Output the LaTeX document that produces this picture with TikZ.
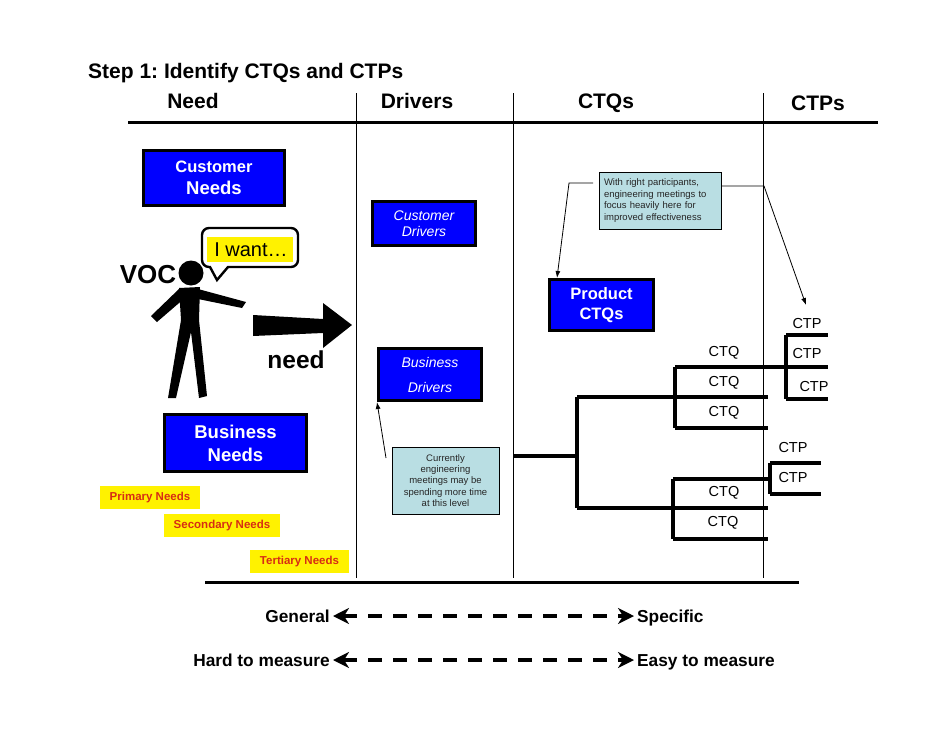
\documentclass[tikz,border=0pt]{standalone}
\usepackage{fontspec}
\setmainfont{Liberation Sans}
\usetikzlibrary{arrows.meta}
\definecolor{noteblue}{RGB}{185,222,227}
\definecolor{labred}{RGB}{215,45,20}
\definecolor{boxblue}{RGB}{0,0,255}
\frenchspacing
\begin{document}
\begin{tikzpicture}[x=1pt,y=-1pt,
  hdr/.style={font=\bfseries\fontsize{21}{25}\selectfont, inner sep=0pt, anchor=base},
  bluebox/.style={draw=black, line width=3pt, fill=boxblue, text=white, align=center, inner sep=0pt},
  notebox/.style={draw=black, line width=0.8pt, fill=noteblue, inner sep=0pt, font=\fontsize{9.5}{11.4}\selectfont, text=black!85},
  yellowlab/.style={fill=yellow, text=labred, font=\bfseries\fontsize{11.5}{13}\selectfont, inner sep=0pt},
  ctlab/.style={font=\fontsize{14.5}{16}\selectfont, inner sep=1pt},
  colline/.style={line width=0.9pt},
  rule/.style={line width=3pt},
  tree/.style={line width=3.2pt},
  thinarr/.style={line width=0.8pt, -{Latex[length=7pt,width=5pt]}},
  dasharr/.style={line width=3.8pt, dash pattern=on 14pt off 11pt, {Stealth[length=16pt,width=16pt,inset=5pt]}-{Stealth[length=16pt,width=16pt,inset=5pt]}},
  endlab/.style={font=\bfseries\fontsize{17.3}{20}\selectfont, inner sep=3pt}
]
\useasboundingbox (0,0) rectangle (942,728);
\fill[white] (0,0) rectangle (942,728);

% title and column headers
\node[hdr, anchor=base west] (step) at (88,78) {Step 1: Identify CTQs and CTPs};
\node[hdr] (hneed) at (193,108) {Need};
\node[hdr] (hdrv) at (417,108) {Drivers};
\node[hdr] (hctq) at (606,108) {CTQs};
\node[hdr] (hctp) at (818,110) {CTPs};

% rules and column lines
\draw[rule] (128,122) -- (878,122);
\draw[colline] (356,93) -- (356,578);
\draw[colline] (513,93) -- (513,578);
\draw[colline] (763,93) -- (763,578);
\draw[rule] (205,582) -- (799,582);

% blue boxes
\node[bluebox, minimum width=141pt, minimum height=55pt, font=\bfseries\fontsize{18.5}{22}\selectfont] (cneeds) at (214,178)
  {{\fontsize{16.5}{22}\selectfont Customer}\\Needs};
\node[bluebox, minimum width=103pt, minimum height=44pt, font=\itshape\fontsize{14}{16.5}\selectfont] (cdrv) at (424,223.5)
  {Customer\\Drivers};
\node[bluebox, minimum width=103pt, minimum height=52pt, font=\itshape\fontsize{14}{25}\selectfont] (bdrv) at (430,374.5)
  {Business\\Drivers};
\node[bluebox, minimum width=142pt, minimum height=57pt, font=\bfseries\fontsize{18.5}{23}\selectfont] (bneeds) at (235.5,443)
  {Business\\Needs};
\node[bluebox, minimum width=104pt, minimum height=51pt, font=\bfseries\fontsize{16.5}{19.5}\selectfont] (pctq) at (601.5,305)
  {Product\\CTQs};

% note boxes
\node[notebox, minimum width=122pt, minimum height=57pt, align=left, text width=112pt, inner xsep=5pt] (note1) at (660,200.5)
  {With right participants,\\engineering meetings to\\focus heavily here for\\improved effectiveness};
\node[notebox, minimum width=107pt, minimum height=67pt, align=center] (note2) at (445.5,480.5)
  {Currently\\engineering\\meetings may be\\spending more time\\at this level};

% yellow labels
\node[yellowlab, minimum width=100pt, minimum height=23pt] (prim) at (150,497.5) {Primary Needs};
\node[yellowlab, minimum width=116pt, minimum height=23pt] (sec) at (222,525.5) {Secondary Needs};
\node[yellowlab, minimum width=99pt, minimum height=23pt] (tert) at (299.5,561.5) {Tertiary Needs};

% note connectors
\coordinate (k0) at (593,183);
\coordinate (k1) at (569,183);
\coordinate (k1e) at (557,278);
\draw[thinarr] (k0) -- (k1) -- (k1e);
\coordinate (k2) at (764,186);
\coordinate (k2e) at (806,305);
\draw[thinarr] (note1.east |- k2) -- (k2) -- (k2e);
\coordinate (k3) at (386,458);
\draw[thinarr] (k3) -- (bdrv.south west);

% VOC figure
\node[font=\bfseries\fontsize{26}{30}\selectfont, inner sep=0pt, anchor=base] (voc) at (148,283) {VOC};
\fill[black] (191,273) circle[radius=12.5];
\fill[black] (179,288) -- (200,287) -- (199,320) -- (207,396) -- (199,398) -- (191,332) -- (176,398) -- (168,398) -- (181,320) -- cycle;
\fill[black] (180,288) -- (186,297) -- (157,322) -- (151,316) -- cycle;
\fill[black] (198,289) -- (246,302) -- (242,308) -- (198,299) -- cycle;
% speech bubble
\filldraw[fill=white, draw=black, line width=2.4pt] (210,267) [rounded corners=7pt] -- (202,267) -- (202,228) -- (298,228) -- (298,267) [sharp corners] -- (228,267) -- (217,280) -- cycle;
\fill[yellow] (207,237) rectangle (293,262);
\node[font=\fontsize{20}{24}\selectfont, inner sep=0pt, anchor=base] (iwant) at (251,256) {I want…};

% big arrow
\fill[black] (253,315) -- (323,319) -- (323,303) -- (352,325) -- (323,348) -- (323,333) -- (253,336) -- cycle;
\node[font=\bfseries\fontsize{24.5}{28}\selectfont, inner sep=0pt, anchor=base] (needw) at (296,368) {need};

% tree
\coordinate (r0) at (513,456);
\coordinate (r1) at (577,456);
\draw[tree] (r0) -- (r1);
\draw[tree] (577,397) -- (577,508);
\draw[tree] (577,397) -- (768,397);
\draw[tree] (675,367) -- (675,428);
\draw[tree] (675,367) -- (786,367);
\draw[tree] (675,428) -- (768,428);
\draw[tree] (577,508) -- (768,508);
\draw[tree] (673,479) -- (673,539);
\draw[tree] (673,479) -- (770,479);
\draw[tree] (673,539) -- (768,539);
\draw[tree] (786,335) -- (786,399);
\draw[tree] (786,335) -- (828,335);
\draw[tree] (786,367) -- (828,367);
\draw[tree] (786,399) -- (828,399);
\draw[tree] (770,463) -- (770,494);
\draw[tree] (770,463) -- (821,463);
\draw[tree] (770,494) -- (821,494);

% CTQ / CTP labels
\node[ctlab] (q1) at (724,353) {CTQ};
\node[ctlab] (q2) at (724,383) {CTQ};
\node[ctlab] (q3) at (724,413) {CTQ};
\node[ctlab] (q4) at (724,493) {CTQ};
\node[ctlab] (q5) at (723,523) {CTQ};
\node[ctlab] (p1) at (807,324) {CTP};
\node[ctlab] (p2) at (807,354) {CTP};
\node[ctlab] (p3) at (814,387) {CTP};
\node[ctlab] (p4) at (793,448) {CTP};
\node[ctlab] (p5) at (793,478) {CTP};

% bottom scales
\node[endlab, anchor=base east] (gen) at (333,622) {General};
\node[endlab, anchor=base west] (spec) at (634,622) {Specific};
\node[endlab, anchor=base east] (hard) at (333,666) {Hard to measure};
\node[endlab, anchor=base west] (easy) at (634,666) {Easy to measure};
\coordinate (row1) at (0,616);
\coordinate (row2) at (0,660);
\draw[dasharr] (gen.east |- row1) -- (spec.west |- row1);
\draw[dasharr] (hard.east |- row2) -- (easy.west |- row2);
\end{tikzpicture}
\end{document}
